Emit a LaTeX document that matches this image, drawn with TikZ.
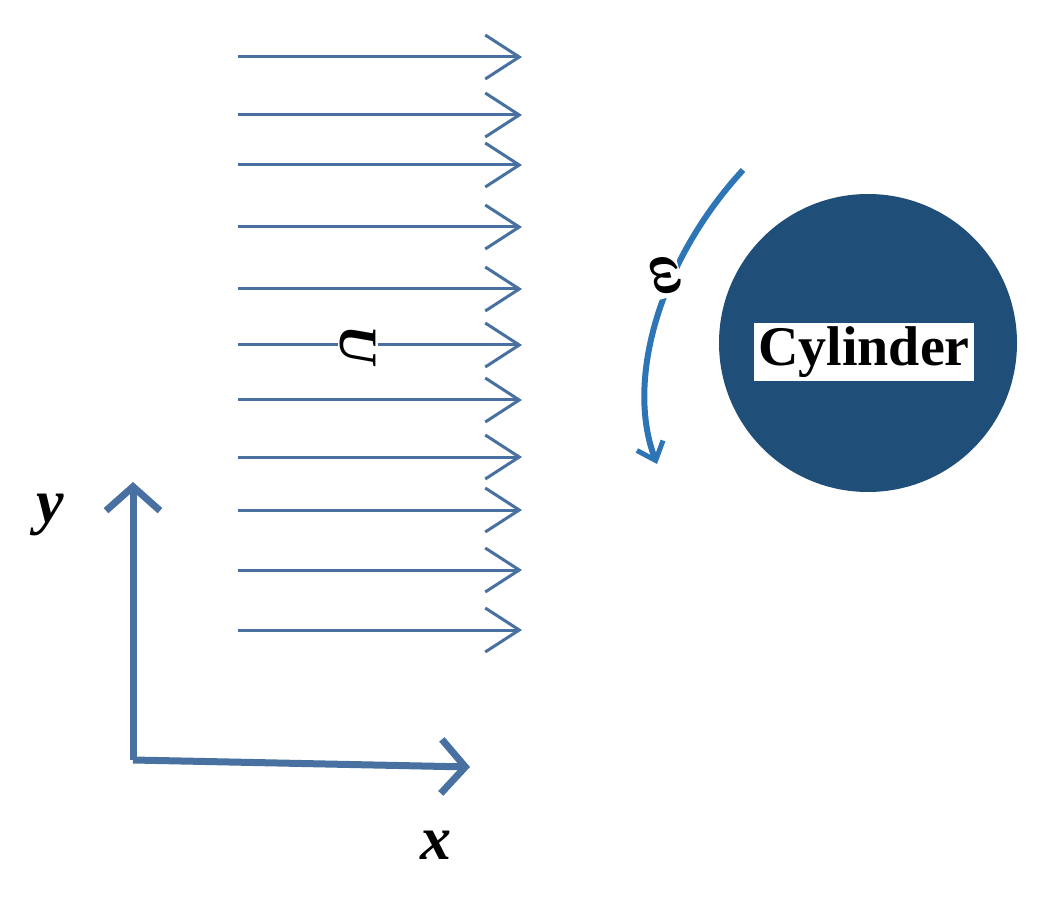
\documentclass[tikz,border=0pt]{standalone}
\usepackage{fontspec}
\newfontfamily\tnr{Liberation Serif}
\usetikzlibrary{arrows.meta}
\begin{document}
\begin{tikzpicture}[x=1pt,y=-1pt,
  flow/.style={draw=flowc,line width=3pt,-{Straight Barb[length=34pt,width=44pt,line width=3pt]}},
  axis/.style={draw=flowc,line width=7pt,-{Straight Barb[length=24pt,width=54pt,line width=7pt]}},
  lab/.style={font=\tnr\fontsize{62}{62}\selectfont\bfseries\itshape}]
\definecolor{flowc}{RGB}{72,112,160}
\definecolor{cyl}{RGB}{31,78,121}
\definecolor{omc}{RGB}{46,117,182}
\useasboundingbox (0,0) rectangle (1053,909);
\foreach \y [count=\i] in {57,115,165,227,289,345,400,457,510,570,630}{
  \coordinate (s\i) at (238,\y); \coordinate (e\i) at (522,\y);
  \draw[flow] (s\i) -- (e\i);}
\node[fill=white,rotate=-90,inner sep=2pt,font=\tnr\fontsize{54}{54}\selectfont\bfseries\itshape] (U) at (358,345) {U};
\coordinate (o) at (133,760);
\coordinate (ya) at (133,482);
\coordinate (xa) at (470,767);
\draw[axis] (o) -- (ya);
\draw[axis] (o) -- (xa);
\node[lab] (ylab) at (50,515) {y};
\node[lab] (xlab) at (436,845) {x};
\node[circle,fill=cyl,minimum size=298pt] (c) at (868,343) {};
\node[fill=white,inner sep=4pt,font=\tnr\fontsize{56}{56}\selectfont\bfseries] (cl) at (864,352) {Cylinder};
\coordinate (a1) at (743,170);
\coordinate (a2) at (657,464);
\draw[omc,line width=6pt,-{Straight Barb[length=16pt,width=28pt,line width=5pt]}] (a1) .. controls (660,260) and (625,380) .. (a2);
\node[fill=white,rotate=-75,inner sep=1pt,font=\tnr\fontsize{56}{56}\selectfont\bfseries\itshape] (om) at (666,276) {ω};
\end{tikzpicture}
\end{document}
